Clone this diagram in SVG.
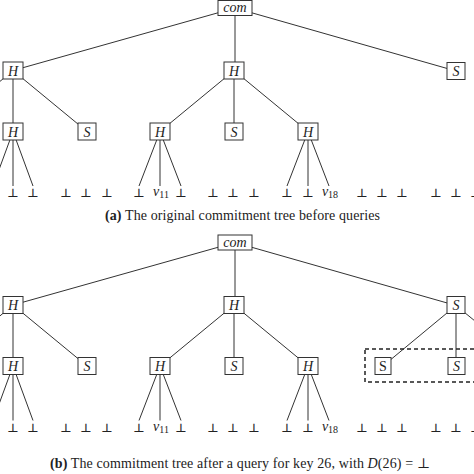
<svg xmlns="http://www.w3.org/2000/svg" width="474" height="474" viewBox="0 0 474 474">
<style>
.e{stroke:#333;stroke-width:1;fill:none}
.b{fill:#fff;stroke:#333;stroke-width:1}
.t{font-family:"Liberation Serif","DejaVu Serif",serif;font-size:14px;font-style:italic;fill:#222;text-anchor:middle}
.r{font-style:normal}
.l{font-family:"DejaVu Serif","Liberation Serif",serif;font-size:12px;fill:#222;stroke:#222;stroke-width:0.2;text-anchor:middle}
.v{font-family:"Liberation Serif","DejaVu Serif",serif;font-size:14px;fill:#222;text-anchor:middle}
.c{font-family:"Liberation Serif","DejaVu Serif",serif;font-size:14px;fill:#222}
.d{fill:none;stroke:#222;stroke-width:1.5;stroke-dasharray:4 3}
</style>
<rect width="474" height="474" fill="#fff"/>
<defs>
<g id="edges">
<path class="e" d="M235 8L13 70.5M235 8V70.5M235 8L456 71M13 70.5L-60 131.5M13 70.5V131.5M13 70.5L87 131.5M234 70.5L160 131.5M234 70.5V131.5M234 70.5L308 131.5M13 131.5L-7 186M13 131.5V186M13 131.5L33 186M160 131.5L139 186M160 131.5V186M160 131.5L181 186M308 131.5L287 186M308 131.5V186M308 131.5L329 186"/>
</g>
<g id="common">
<g id="com"><rect class="b" x="218" y="0.5" width="34" height="15"/><text class="t" x="235" y="12" font-size="12">com</text></g>
<g id="h1"><rect class="b" x="3" y="62" width="20" height="17"/><text class="t" x="13" y="75.5">H</text></g>
<g id="h2"><rect class="b" x="224" y="62" width="20" height="17"/><text class="t" x="234" y="75.5">H</text></g>
<g id="h11"><rect class="b" x="3" y="123" width="20" height="17"/><text class="t" x="13" y="136.5">H</text></g>
<g id="s12"><rect class="b" x="78" y="123" width="18" height="17"/><text class="t" x="87" y="136.5">S</text></g>
<g id="h21"><rect class="b" x="150" y="123" width="20" height="17"/><text class="t" x="160" y="136.5">H</text></g>
<g id="s22"><rect class="b" x="225" y="123" width="18" height="17"/><text class="t" x="234" y="136.5">S</text></g>
<g id="h23"><rect class="b" x="298" y="123" width="20" height="17"/><text class="t" x="308" y="136.5">H</text></g>
</g>
</defs>

<g id="connectors">
<use href="#edges"/>
<g transform="translate(0,234.5)"><use href="#edges"/><path class="e" d="M456 71L383 131.5M456 71V131.5M456 71L530 131.5"/></g>
</g>

<g id="tree-a">
<use href="#common"/>
<g id="a-s3"><rect class="b" x="447" y="62.5" width="18" height="17"/><text class="t" x="456" y="76">S</text></g>
<g id="a-leaves">
<text class="l" x="13" y="197">⊥</text><text class="l" x="33" y="197">⊥</text>
<text class="l" x="66" y="197">⊥</text><text class="l" x="86" y="197">⊥</text><text class="l" x="107" y="197">⊥</text>
<text class="l" x="139" y="197">⊥</text><text class="v" x="161" y="196"><tspan font-style="italic">v</tspan><tspan font-size="10" dy="2">11</tspan></text><text class="l" x="181" y="197">⊥</text>
<text class="l" x="213" y="197">⊥</text><text class="l" x="233" y="197">⊥</text><text class="l" x="254" y="197">⊥</text>
<text class="l" x="287" y="197">⊥</text><text class="l" x="308" y="197">⊥</text><text class="v" x="330" y="196"><tspan font-style="italic">v</tspan><tspan font-size="10" dy="2">18</tspan></text>
<text class="l" x="362" y="197">⊥</text><text class="l" x="382" y="197">⊥</text><text class="l" x="402" y="197">⊥</text>
<text class="l" x="436" y="197">⊥</text><text class="l" x="456" y="197">⊥</text><text class="l" x="476" y="197">⊥</text>
</g>
<text class="c" x="105" y="220" textLength="275" lengthAdjust="spacing"><tspan font-weight="bold">(a)</tspan> The original commitment tree before queries</text>
</g>

<g id="tree-b" transform="translate(0,234.5)">
<use href="#common"/>
<g id="b-s3"><rect class="b" x="447" y="62" width="18" height="17"/><text class="t" x="456" y="75.5">S</text></g>
<rect class="d" x="365" y="114.5" width="120" height="33"/>
<g id="b-s31"><rect class="b" x="375" y="123" width="16" height="17"/><text class="t r" x="383" y="136.5">S</text></g>
<g id="b-s32"><rect class="b" x="448" y="123" width="17" height="17"/><text class="t" x="456.5" y="136.5">S</text></g>
<g id="b-leaves">
<text class="l" x="13" y="197">⊥</text><text class="l" x="33" y="197">⊥</text>
<text class="l" x="66" y="197">⊥</text><text class="l" x="86" y="197">⊥</text><text class="l" x="107" y="197">⊥</text>
<text class="l" x="139" y="197">⊥</text><text class="v" x="161" y="196"><tspan font-style="italic">v</tspan><tspan font-size="10" dy="2">11</tspan></text><text class="l" x="181" y="197">⊥</text>
<text class="l" x="213" y="197">⊥</text><text class="l" x="233" y="197">⊥</text><text class="l" x="254" y="197">⊥</text>
<text class="l" x="287" y="197">⊥</text><text class="l" x="308" y="197">⊥</text><text class="v" x="330" y="196"><tspan font-style="italic">v</tspan><tspan font-size="10" dy="2">18</tspan></text>
<text class="l" x="362" y="197">⊥</text><text class="l" x="382" y="197">⊥</text><text class="l" x="402" y="197">⊥</text>
<text class="l" x="436" y="197">⊥</text><text class="l" x="456" y="197">⊥</text><text class="l" x="476" y="197">⊥</text>
</g>
<text class="c" x="50" y="233" textLength="380" lengthAdjust="spacing"><tspan font-weight="bold">(b)</tspan> The commitment tree after a query for key 26, with <tspan font-style="italic">D</tspan>(26) = ⊥</text>
</g>
</svg>
